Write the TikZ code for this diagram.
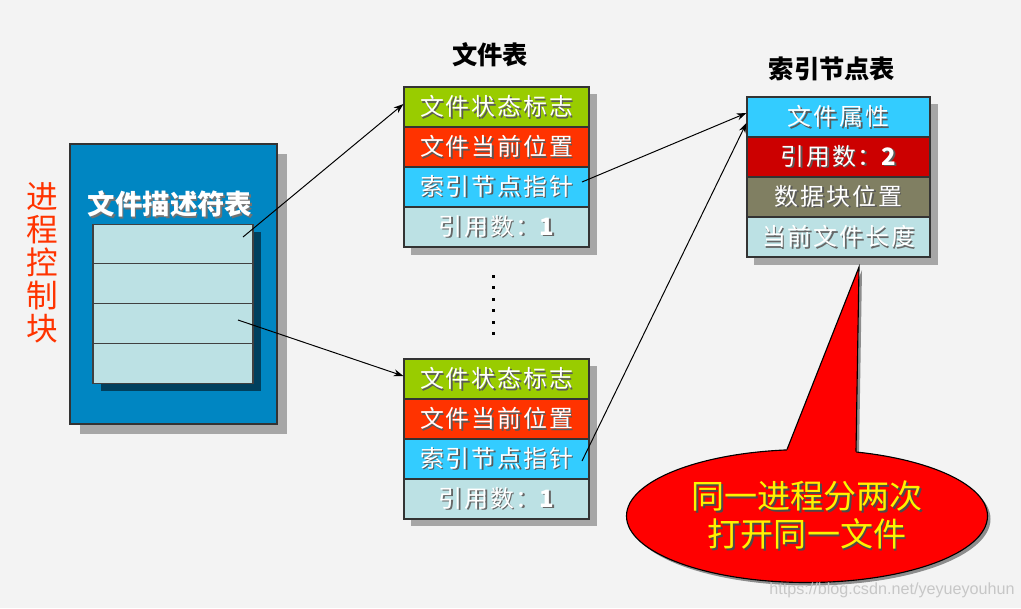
\documentclass[tikz,border=0pt]{standalone}
\usepackage{fontspec}
\newfontfamily\cjk{Noto Sans CJK SC}
\newfontfamily\cjksp{Noto Sans CJK SC}[LetterSpace=8]
\newfontfamily\wmfont{Liberation Sans}
\usetikzlibrary{arrows.meta,calc,shapes.geometric}
\definecolor{bgc}{HTML}{F3F3F3}
\definecolor{cgreen}{HTML}{99CC00}
\definecolor{corange}{HTML}{FF3300}
\definecolor{csky}{HTML}{33CCFF}
\definecolor{cpale}{HTML}{BCE1E4}
\definecolor{cdred}{HTML}{CC0000}
\definecolor{colive}{HTML}{807F62}
\definecolor{cfdblue}{HTML}{0086C2}
\definecolor{cnavy}{HTML}{00405E}
\definecolor{ctitle}{HTML}{FF3300}
\newcommand\sht[2][black!65]{\makebox[0pt][l]{\hspace{1.2pt}\raisebox{-1.2pt}{\textcolor{#1}{#2}}}#2}
\begin{document}
\begin{tikzpicture}[x=0.025cm,y=-0.025cm,
  cell/.style={draw=black!80, line width=0.8pt, minimum width=185*0.025cm, minimum height=40*0.025cm,
    inner sep=0pt, font=\cjksp\fontsize{17}{20}\selectfont, text=white},
  icell/.style={cell, minimum width=183*0.025cm},
  fdrow/.style={draw=black!75, line width=0.8pt, fill=cpale, minimum width=160*0.025cm, minimum height=39.75*0.025cm, inner sep=0pt},
  title/.style={font=\cjk\fontsize{18}{20}\selectfont\bfseries, text=black},
  arr/.style={draw=black, line width=0.7pt, -{Stealth[length=7pt,width=5pt]}},
  dotmark/.style={fill=black, minimum size=3*0.025cm, inner sep=0pt, draw=none}
]
% background
\fill[bgc] (0,0) rectangle (1021,608);
\useasboundingbox (0,0) rectangle (1021,608);

% ---------- process control block ----------
\fill[black!35] (80,154) rectangle (287,434);
\node[draw=black!80, line width=0.8pt, fill=cfdblue, minimum width=207*0.025cm, minimum height=280*0.025cm, inner sep=0pt] (pcb) at (173.5,284) {};
\node[font=\cjk\fontsize{19.5}{22}\selectfont\bfseries, text=white] (fdtitle) at (170,205) {\sht[black!55]{文件描述符表}};
\fill[cnavy] (101,232) rectangle (261,391);
\node[fdrow] (fd1) at (173,244) {};
\node[fdrow] (fd2) at (173,283.75) {};
\node[fdrow] (fd3) at (173,323.5) {};
\node[fdrow] (fd4) at (173,363.25) {};
\node[font=\cjk\fontsize{22.5}{23.5}\selectfont, text=ctitle, align=center, inner sep=0pt] (pcbtitle) at (42,263) {进\\程\\控\\制\\块};

% ---------- file tables ----------
\node[title] (ftitle) at (490,55) {文件表};
\fill[black!35] (411,94) rectangle (597,255);
\node[cell, fill=cgreen] (f1a) at (496.5,107) {\sht{文件状态标志}};
\node[cell, fill=corange] (f1b) at (496.5,147) {\sht{文件当前位置}};
\node[cell, fill=csky] (f1c) at (496.5,187) {\sht{索引节点指针}};
\node[cell, fill=cpale] (f1d) at (496.5,227) {\sht[black!60]{引用数：{\bfseries 1}}};

\foreach \i/\yy in {1/276,2/287.5,3/299,4/310.5,5/322,6/333}
  \node[dotmark] (dot\i) at (493,\yy) {};

\fill[black!35] (411,366) rectangle (597,526);
\node[cell, fill=cgreen] (f2a) at (496.5,379) {\sht{文件状态标志}};
\node[cell, fill=corange] (f2b) at (496.5,419) {\sht{文件当前位置}};
\node[cell, fill=csky] (f2c) at (496.5,459) {\sht{索引节点指针}};
\node[cell, fill=cpale] (f2d) at (496.5,499) {\sht[black!60]{引用数：{\bfseries 1}}};

% ---------- inode table ----------
\node[title] (ititle) at (832,69) {索引节点表};
\fill[black!35] (754,104) rectangle (938,265);
\node[icell, fill=csky] (i1) at (838.5,117) {\sht{文件属性}};
\node[icell, fill=cdred] (i2) at (838.5,157) {\sht{引用数：{\bfseries 2}}};
\node[icell, fill=colive] (i3) at (838.5,197) {\sht{数据块位置}};
\node[icell, fill=cpale] (i4) at (838.5,237) {\sht[black!60]{当前文件长度}};

% ---------- connectors ----------
\coordinate (s1) at (243,237);
\coordinate (s2) at (238,320);
\coordinate (s3) at (582,182);
\coordinate (s4) at (582,461);
\draw[arr] (s1) -- ($(f1a.west)+(0,-3)$);
\draw[arr] (s2) -- ($(f2a.west)+(0,-3)$);
\draw[arr] (s3) -- ($(i1.west)+(0,-4)$);
\draw[arr] (s4) -- ($(i1.west)+(0,6)$);

% ---------- callout ----------
\coordinate (tip) at (859,267);
\coordinate (b1) at (787,449.5);
\coordinate (b2) at (856,451.5);
\fill[black!45] (810,519) ellipse [x radius=180.5, y radius=66.5];
\fill[black!45] ($(b1)+(3,3)$) -- ($(tip)+(3,3)$) -- ($(b2)+(3,3)$) -- cycle;
\node[ellipse, draw=black, line width=0.8pt, fill=red, minimum width=361*0.025cm, minimum height=133*0.025cm, inner sep=0pt,
  font=\cjk\fontsize{23.5}{28}\selectfont, text=yellow, align=center] (call) at (807,516)
  {\sht[black!70]{同一进程分两次}\\[-1pt]\sht[black!70]{打开同一文件}};
\fill[red] (b1) -- (tip) -- (b2) -- ($(b2)+(0,9)$) -- ($(b1)+(0,9)$) -- cycle;
\draw[black, line width=0.8pt, line join=miter] (b1) -- (tip) -- (b2);

% watermark
\node[font=\wmfont\fontsize{11.5}{12}\selectfont, text=black!22] (wm) at (892,590) {https://blog.csdn.net/yeyueyouhun};
\end{tikzpicture}
\end{document}
